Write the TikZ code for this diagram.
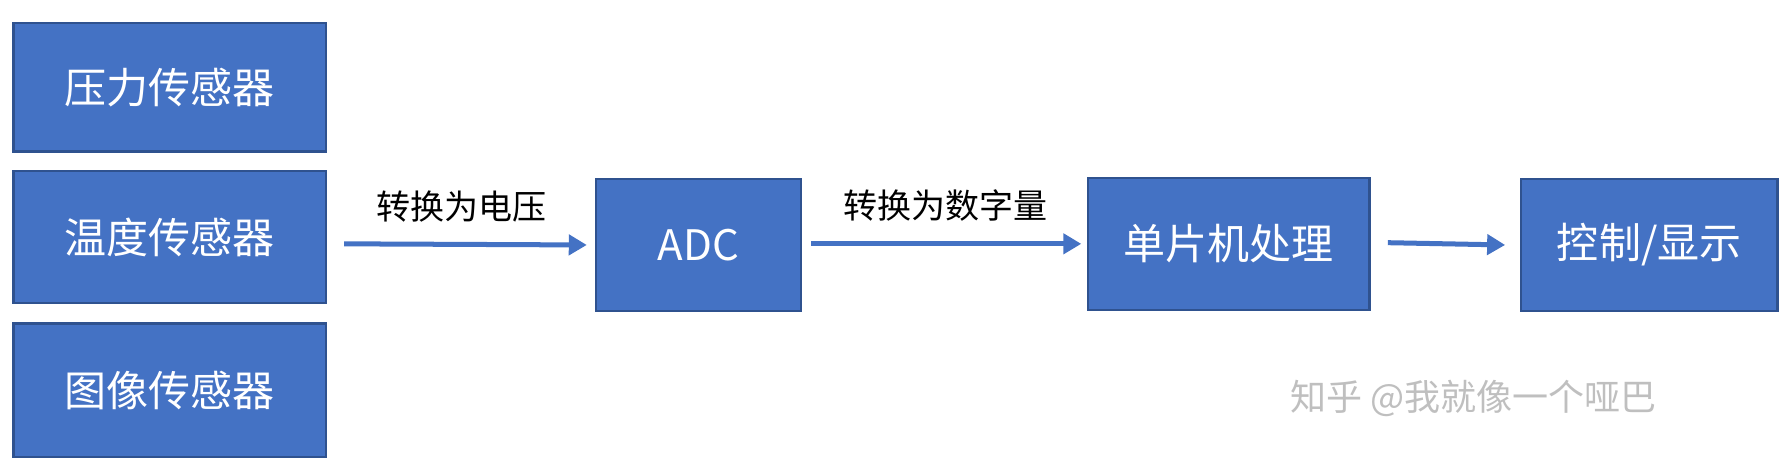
\documentclass[tikz,border=0pt]{standalone}
\usepackage{fontspec}
\setmainfont{Noto Sans CJK SC}
\usetikzlibrary{arrows.meta}
\definecolor{boxfill}{HTML}{4472C4}
\definecolor{boxline}{HTML}{2F528F}
\begin{document}
\begin{tikzpicture}[x=0.02cm,y=-0.02cm,
  blk/.style={draw=boxline,line width=1.2pt,fill=boxfill,text=white,font=\fontsize{21}{24}\selectfont,inner sep=0pt},
  conn/.style={draw=boxfill,line width=2.5pt,-{Triangle[length=9pt,width=10pt]}},
  lbl/.style={font=\fontsize{17}{20}\selectfont,text=black}]
\useasboundingbox (0,0) rectangle (1564,412);
\node[blk,minimum width=274*0.02cm,minimum height=113*0.02cm] (p) at (149,76.5) {压力传感器};
\node[blk,minimum width=274*0.02cm,minimum height=116*0.02cm] (t) at (149,208) {温度传感器};
\node[blk,minimum width=274*0.02cm,minimum height=117*0.02cm] (i) at (149,342.5) {图像传感器};
\node[blk,minimum width=180*0.02cm,minimum height=116*0.02cm] (adc) at (613,215) {ADC};
\node[blk,minimum width=247*0.02cm,minimum height=116*0.02cm] (mcu) at (1078.5,214) {单片机处理};
\node[blk,minimum width=225*0.02cm,minimum height=116*0.02cm] (ctl) at (1447.5,215) {控制/显示};
\coordinate (a1) at (302,214);
\coordinate (a2) at (712,214);
\coordinate (a3) at (1218,213);
\draw[conn] (a1) -- (adc.west -| 515,214);
\draw[conn] (a2) -- (mcu.west -| 949,214);
\draw[conn] (a3) -- (ctl.west -| 1321,213);
\node[lbl] (l1) at (405,181) {转换为电压};
\node[lbl] (l2) at (830,180) {转换为数字量};
\node[font=\fontsize{18}{20}\selectfont,text=black!25] (wm) at (1293,350) {知乎 @我就像一个哑巴};
\end{tikzpicture}
\end{document}
